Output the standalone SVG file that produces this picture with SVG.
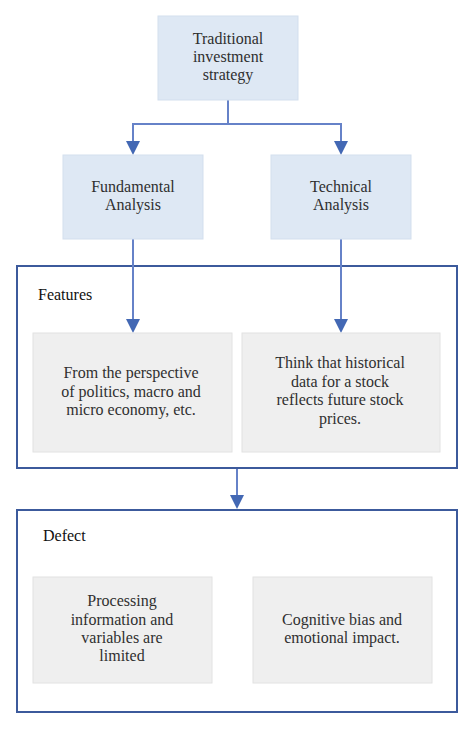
<svg xmlns="http://www.w3.org/2000/svg" width="474" height="729" viewBox="0 0 474 729">
<style>
.blue{fill:#dee8f4;stroke:#d3dfee;stroke-width:1}
.gray{fill:#efefef;stroke:#e2e2e2;stroke-width:1}
.frame{fill:none;stroke:#3c5a9c;stroke-width:2}
text{font-family:'Liberation Serif','DejaVu Serif',serif;font-size:16px}
.t{fill:#2f2f2f;text-anchor:middle}
.h{fill:#111}
.c{fill:none;stroke:#6682c8;stroke-width:2}
.ah{fill:#4368b4}
</style>
<g id="features-frame"><rect class="frame" x="17" y="266" width="440" height="202"/><text class="h" x="38" y="300">Features</text></g>
<g id="defect-frame"><rect class="frame" x="17" y="510" width="440" height="202"/><text class="h" x="43" y="541">Defect</text></g>
<g id="connectors">
<polyline class="c" points="228,100 228,124"/>
<polyline class="c" points="133,124 341,124"/>
<line class="c" x1="133" y1="123" x2="133" y2="146"/>
<path class="ah" d="M126,141 L140,141 L133,155 Z"/>
<line class="c" x1="341" y1="123" x2="341" y2="146"/>
<path class="ah" d="M334,141 L348,141 L341,155 Z"/>
<line class="c" x1="133" y1="239" x2="133" y2="322"/>
<path class="ah" d="M126,319 L140,319 L133,333 Z"/>
<line class="c" x1="341" y1="239" x2="341" y2="322"/>
<path class="ah" d="M334,319 L348,319 L341,333 Z"/>
<line class="c" x1="237" y1="469" x2="237" y2="498"/>
<path class="ah" d="M230,495 L244,495 L237,509 Z"/>
</g>
<g id="traditional"><rect class="blue" x="158" y="16" width="140" height="84"/>
<text class="t" x="228" y="44">Traditional</text><text class="t" x="228" y="62">investment</text><text class="t" x="228" y="80">strategy</text></g>
<g id="fundamental"><rect class="blue" x="63" y="155" width="140" height="84"/>
<text class="t" x="133" y="192">Fundamental</text><text class="t" x="133" y="210">Analysis</text></g>
<g id="technical"><rect class="blue" x="271" y="155" width="140" height="84"/>
<text class="t" x="341" y="192">Technical</text><text class="t" x="341" y="210">Analysis</text></g>
<g id="feat-left"><rect class="gray" x="33" y="333" width="199" height="119"/>
<text class="t" x="131" y="378">From the perspective</text><text class="t" x="131" y="397">of politics, macro and</text><text class="t" x="131" y="415">micro economy, etc.</text></g>
<g id="feat-right"><rect class="gray" x="242" y="333" width="198" height="119"/>
<text class="t" x="340" y="368">Think that historical</text><text class="t" x="340" y="387">data for a stock</text><text class="t" x="340" y="405">reflects future stock</text><text class="t" x="340" y="424">prices.</text></g>
<g id="def-left"><rect class="gray" x="33" y="577" width="179" height="106"/>
<text class="t" x="122" y="606">Processing</text><text class="t" x="122" y="625">information and</text><text class="t" x="122" y="643">variables are</text><text class="t" x="122" y="661">limited</text></g>
<g id="def-right"><rect class="gray" x="253" y="577" width="179" height="106"/>
<text class="t" x="342" y="625">Cognitive bias and</text><text class="t" x="342" y="643">emotional impact.</text></g>
</svg>
